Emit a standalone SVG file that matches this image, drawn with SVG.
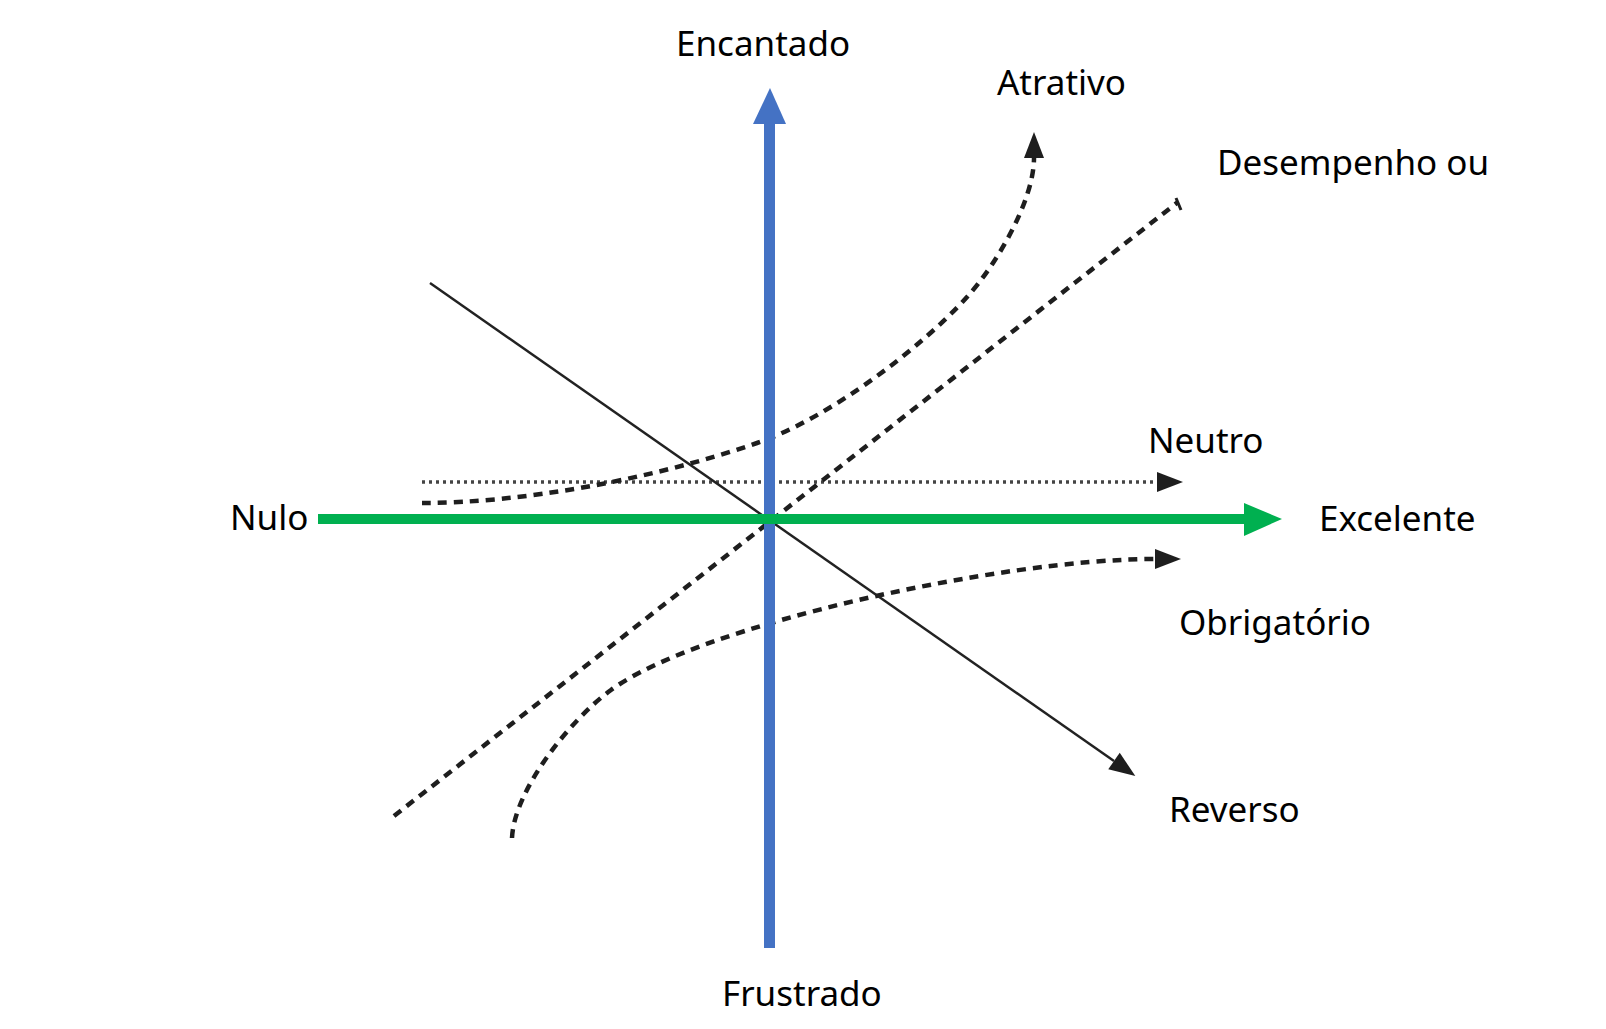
<svg xmlns="http://www.w3.org/2000/svg" width="1606" height="1029" viewBox="0 0 1606 1029">
<style>
  .lbl { font-family: "Noto Sans", "Open Sans", sans-serif; font-size: 35px; fill: #000; }
  .dash { fill: none; stroke: #1e1e1e; stroke-width: 4.5; stroke-dasharray: 9 7; }
  .dot { fill: none; stroke: #444; stroke-width: 3.5; stroke-dasharray: 3 4; }
  .solid { fill: none; stroke: #222; stroke-width: 2.5; }
</style>
<defs>
  <marker id="ah" markerUnits="userSpaceOnUse" markerWidth="28" markerHeight="22" refX="0" refY="10" orient="auto" overflow="visible">
    <path d="M0,0 L26,10 L0,20 z" fill="#1e1e1e"/>
  </marker>
</defs>
<rect width="1606" height="1029" fill="#fff"/>

<g id="connectors">
  <path id="neutro-line" class="dot" d="M422,482 L1157,482" marker-end="url(#ah)"/>
  <path id="atrativo-line" class="dash" d="M422,503 C520,503 650,480 757,443 C830,418 922,347 967,297 C997,264 1034,200 1034,158" marker-end="url(#ah)"/>
  <path id="desempenho-line" class="dash" d="M394,816 L1178,202"/>
  <path d="M1176,198 L1181,210" stroke="#1e1e1e" stroke-width="3"/>
  <path id="obrigatorio-line" class="dash" d="M512,838 C514,790 571,719 611,690 C700,625 1000,559 1155,559" marker-end="url(#ah)"/>
  <path id="reverso-line" class="solid" d="M430,283 L1114,761" marker-end="url(#ah)"/>
</g>

<g id="axis-y">
  <rect x="764" y="120" width="11" height="828" fill="#4472C4"/>
  <polygon points="753,124 786,124 770,88" fill="#4472C4"/>
</g>
<g id="axis-x">
  <rect x="318" y="514" width="930" height="10" fill="#00B050"/>
  <polygon points="1244,503 1244,536 1282,519" fill="#00B050"/>
</g>

<g id="label-encantado"><text class="lbl" x="676" y="56">Encantado</text></g>
<g id="label-atrativo"><text class="lbl" x="997" y="95">Atrativo</text></g>
<g id="label-desempenho"><text class="lbl" x="1217" y="175">Desempenho ou</text></g>
<g id="label-neutro"><text class="lbl" x="1148" y="453">Neutro</text></g>
<g id="label-nulo"><text class="lbl" x="230" y="530">Nulo</text></g>
<g id="label-excelente"><text class="lbl" x="1319" y="531">Excelente</text></g>
<g id="label-obrigatorio"><text class="lbl" x="1179" y="635">Obrigatório</text></g>
<g id="label-reverso"><text class="lbl" x="1169" y="822">Reverso</text></g>
<g id="label-frustrado"><text class="lbl" x="722" y="1006">Frustrado</text></g>
</svg>
